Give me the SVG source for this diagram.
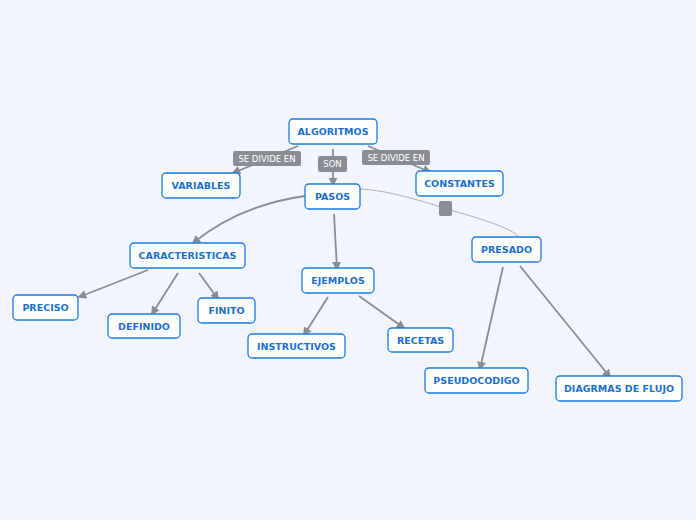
<svg xmlns="http://www.w3.org/2000/svg" width="696" height="520" viewBox="0 0 696 520">
<style>
.n rect{fill:#fff;stroke:#1a7be0;stroke-width:1.3}
.n text{font-family:Verdana,"DejaVu Sans",sans-serif;font-size:9.5px;font-weight:bold;fill:#1a6fd0;text-anchor:middle}
.c path{fill:none;stroke:#8a8d94;stroke-width:1.8}
.lb rect{fill:#8a8d94}
.lb text{font-family:"DejaVu Sans",sans-serif;font-size:8.5px;fill:#fff;text-anchor:middle}
</style>
<defs><marker id="a" viewBox="0 0 10 10" refX="8" refY="5" markerWidth="5" markerHeight="5" orient="auto"><path d="M0,0L10,5L0,10z" fill="#8a8d94"/></marker></defs>
<rect width="696" height="520" fill="#f2f5fe"/>
<g class="c">
<path d="M298,146 L233,173" marker-end="url(#a)"/>
<path d="M333,149 L333,185" marker-end="url(#a)"/>
<path d="M368,146 L430,172" marker-end="url(#a)"/>
<path d="M305,196 Q240,205 193,243" marker-end="url(#a)"/>
<path d="M360,189 Q390,190 450,210 Q515,228 518,237" style="stroke-width:0.9;stroke:#a5a8ae"/>
<path d="M334,214 L337,269" marker-end="url(#a)"/>
<path d="M148,270 L79,297" marker-end="url(#a)"/>
<path d="M178,273 L152,314" marker-end="url(#a)"/>
<path d="M199,273 L218,299" marker-end="url(#a)"/>
<path d="M328,297 L304,335" marker-end="url(#a)"/>
<path d="M359,296 L404,328" marker-end="url(#a)"/>
<path d="M503,267 L480,369" marker-end="url(#a)"/>
<path d="M520,266 L610,377" marker-end="url(#a)"/>
<rect x="439" y="201" width="13" height="15" rx="2" fill="#8a8d94"/>
</g>
<g class="lb">
<rect x="233" y="151" width="68" height="15" rx="2"/><text x="267" y="161.5">SE DIVIDE EN</text>
<rect x="318" y="156" width="29" height="16" rx="2"/><text x="332.5" y="167">SON</text>
<rect x="362" y="150" width="68" height="15" rx="2"/><text x="396" y="160.5">SE DIVIDE EN</text>
</g>
<g id="algoritmos" class="n"><rect x="289" y="119" width="88" height="25" rx="4"/><text x="333" y="135">ALGORITMOS</text></g>
<g id="variables" class="n"><rect x="162" y="173" width="78" height="25" rx="4"/><text x="201" y="189">VARIABLES</text></g>
<g id="pasos" class="n"><rect x="305" y="184" width="55" height="25" rx="4"/><text x="332.5" y="200">PASOS</text></g>
<g id="constantes" class="n"><rect x="416" y="171" width="87" height="25" rx="4"/><text x="459.5" y="187">CONSTANTES</text></g>
<g id="caracteristicas" class="n"><rect x="130" y="243" width="115" height="25" rx="4"/><text x="187.5" y="259">CARACTERISTICAS</text></g>
<g id="presado" class="n"><rect x="472" y="237" width="69" height="25" rx="4"/><text x="506.5" y="253">PRESADO</text></g>
<g id="ejemplos" class="n"><rect x="302" y="268" width="72" height="25" rx="4"/><text x="338" y="284">EJEMPLOS</text></g>
<g id="preciso" class="n"><rect x="13" y="295" width="65" height="25" rx="4"/><text x="45.5" y="311">PRECISO</text></g>
<g id="definido" class="n"><rect x="108" y="314" width="72" height="24" rx="4"/><text x="144" y="329.5">DEFINIDO</text></g>
<g id="finito" class="n"><rect x="198" y="298" width="57" height="25" rx="4"/><text x="226.5" y="314">FINITO</text></g>
<g id="instructivos" class="n"><rect x="248" y="334" width="97" height="24" rx="4"/><text x="296.5" y="349.5">INSTRUCTIVOS</text></g>
<g id="recetas" class="n"><rect x="388" y="328" width="65" height="24" rx="4"/><text x="420.5" y="343.5">RECETAS</text></g>
<g id="pseudocodigo" class="n"><rect x="425" y="368" width="103" height="25" rx="4"/><text x="476.5" y="384">PSEUDOCODIGO</text></g>
<g id="diagrmas" class="n"><rect x="556" y="376" width="126" height="25" rx="4"/><text x="619" y="392">DIAGRMAS DE FLUJO</text></g>
</svg>
